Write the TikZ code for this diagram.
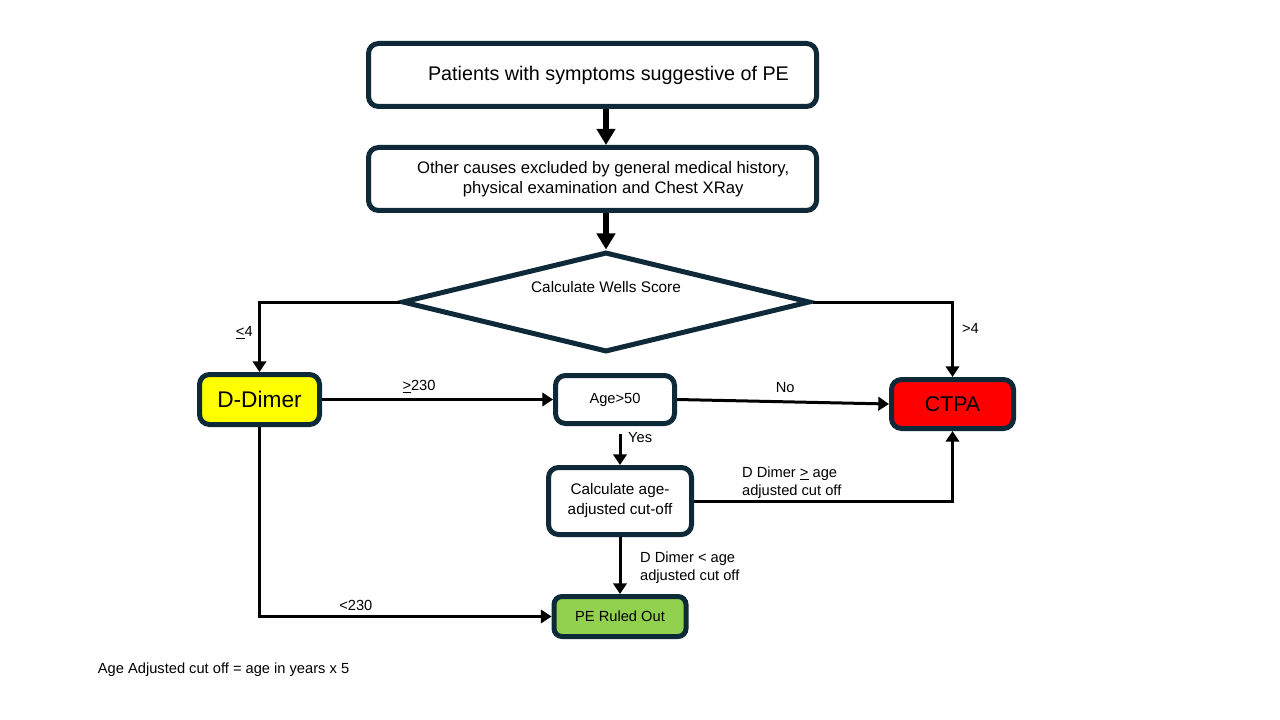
\documentclass[tikz,border=0pt]{standalone}
\usepackage{fontspec}
\setmainfont{Liberation Sans}
\usepackage{xcolor}
\usepackage{tikz}
\usetikzlibrary{arrows.meta, shapes.geometric}

\definecolor{boxline}{HTML}{0E2A38}
\definecolor{ddyellow}{HTML}{FFFF00}
\definecolor{ctpared}{HTML}{FF0000}
\definecolor{okgreen}{HTML}{92D050}

\begin{document}
\begin{tikzpicture}[
  x=0.75pt, y=-0.75pt,
  font=\fontsize{11}{13.5}\selectfont,
  stepbox/.style={
    draw=boxline,
    fill=white,
    rounded corners=7.5pt,
    line width=3.75pt,
    align=center,
    inner sep=2pt
  },
  decision/.style={
    draw=boxline,
    fill=white,
    diamond,
    aspect=4.1,
    line width=3.75pt,
    inner sep=0pt
  },
  flow/.style={
    draw=black,
    line width=2.25pt,
    -{Triangle[length=8pt,width=10pt]}
  },
  bigflow/.style={
    draw=black,
    line width=5pt,
    -{Triangle[length=12pt,width=13.5pt]}
  },
  tag/.style={
    font=\fontsize{11}{13.5}\selectfont,
    inner sep=2pt,
    align=left
  }
]

\fill[white] (0,0) rectangle (1280,720);
\useasboundingbox (0,0) rectangle (1280,720);

% -------------------------------------------------------------------
% Entry boxes and Wells score
% -------------------------------------------------------------------
\node[stepbox, minimum width=336pt, minimum height=47.25pt,
  font=\fontsize{14.8}{17}\selectfont] (patients) at (592.5,75)
{\hspace*{24pt}Patients with symptoms suggestive of PE};

\node[stepbox, minimum width=336pt, minimum height=47.25pt,
  font=\fontsize{12.5}{15}\selectfont] (history) at (592.5,179)
{\hspace*{16pt}Other causes excluded by general medical history,\\
\hspace*{16pt}physical examination and Chest XRay};

\node[decision, minimum width=306pt, minimum height=75pt,
  font=\fontsize{11.5}{14}\selectfont] (wells) at (606,302)
{\raisebox{7pt}[0pt][0pt]{Calculate Wells Score}};

% -------------------------------------------------------------------
% Second row
% -------------------------------------------------------------------
\node[stepbox, fill=ddyellow, minimum width=90pt, minimum height=37.5pt,
  font=\fontsize{17}{20}\selectfont] (ddimer) at (259.5,399.5)
{D-Dimer};

\node[stepbox, minimum width=89.25pt, minimum height=36pt] (age) at (615,399.5)
{Age>50};

\node[stepbox, fill=ctpared, minimum width=91.5pt, minimum height=36.75pt,
  font=\fontsize{16}{19}\selectfont] (ctpa) at (952.5,404)
{CTPA};

% -------------------------------------------------------------------
% Lower boxes
% -------------------------------------------------------------------
\node[stepbox, minimum width=107.25pt, minimum height=50.25pt,
  font=\fontsize{11.5}{15}\selectfont] (cutoff) at (620,501)
{Calculate age-\\adjusted cut-off};

\node[stepbox, fill=okgreen, minimum width=99pt, minimum height=30pt,
  rounded corners=6pt] (ruledout) at (620,616.5)
{PE Ruled Out};

% Connectors
\draw[bigflow] (patients.south -| wells.center) -- (history.north -| wells.center);
\draw[bigflow] (history.south -| wells.center) -- (wells.north);

\draw[flow] (wells.west) -| (ddimer.north)
  node[tag, pos=0.72, left, xshift=-2pt] {\underline{<}4};
\draw[flow] (wells.east) -| (ctpa.north)
  node[tag, pos=0.675, right, xshift=4pt] {>4};

\draw[flow] (ddimer.east) -- (age.west)
  node[tag, pos=0.42, above, yshift=2pt] {\underline{>}230};
\draw[flow] (age.east) -- (ctpa.west)
  node[tag, pos=0.51, above, yshift=4pt] {No};

\draw[flow, shorten <=6pt] (cutoff.north |- age.south) -- (cutoff.north)
  node[tag, pos=0.3, right, xshift=3pt] {Yes};
\draw[flow] (cutoff.east) -| (ctpa.south)
  node[tag, pos=0.085, above right, yshift=-1pt] {D Dimer \underline{>} age\\adjusted cut off};
\draw[flow] (cutoff.south) -- (ruledout.north)
  node[tag, pos=0.53, right, xshift=12pt] {D Dimer < age\\adjusted cut off};

\draw[flow] (ddimer.south) |- (ruledout.west)
  node[tag, pos=0.665, above, yshift=1pt] {<230};

% Footnote
\node[tag, anchor=west, font=\fontsize{11}{13}\selectfont] (note) at (95,670)
{Age Adjusted cut off = age in years x 5};

\end{tikzpicture}
\end{document}
